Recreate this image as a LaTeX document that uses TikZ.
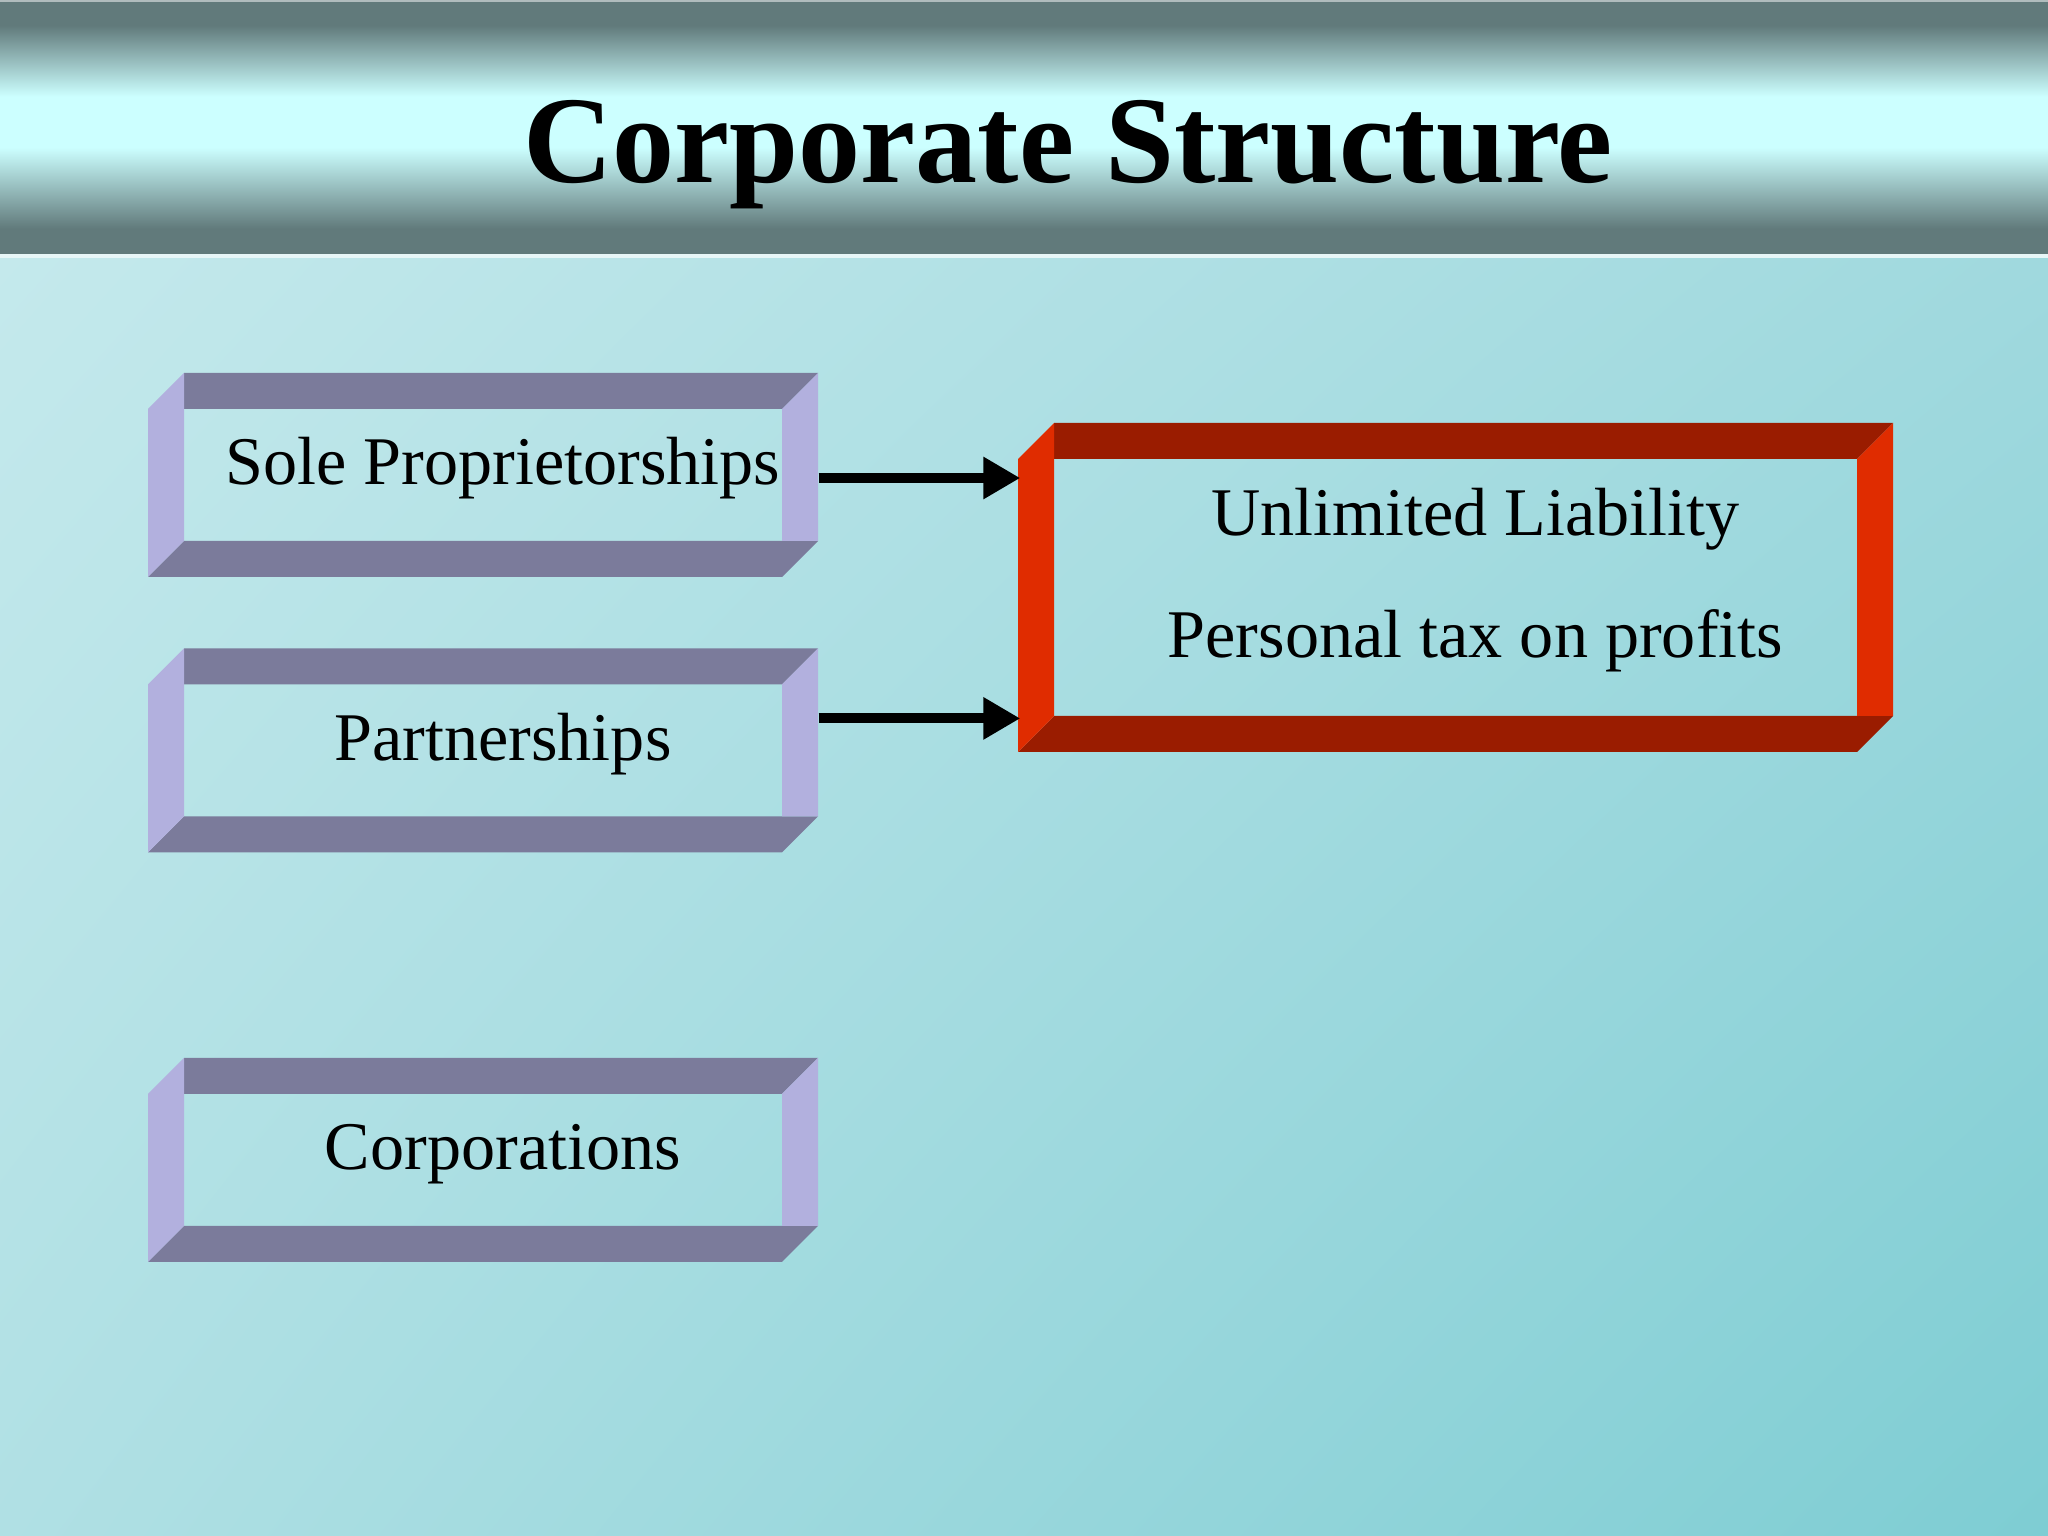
\documentclass[tikz,border=0pt]{standalone}
\usepackage{fontspec}
\setmainfont{Liberation Serif}
\usepackage{xcolor}
\usetikzlibrary{positioning, arrows.meta, shadings}

\definecolor{bardark}{RGB}{97,122,123}
\definecolor{barlight}{RGB}{204,255,255}
\definecolor{bgul}{RGB}{196,233,236}
\definecolor{bgur}{RGB}{160,217,222}
\definecolor{bgll}{RGB}{176,224,228}
\definecolor{bglr}{RGB}{126,205,211}
\definecolor{lavdark}{RGB}{123,123,155}
\definecolor{lavlight}{RGB}{178,176,222}
\definecolor{reddark}{RGB}{154,28,0}
\definecolor{redlight}{RGB}{224,44,0}

\pgfdeclareverticalshading{titlebar}{100bp}{color(0bp)=(bardark); color(30bp)=(bardark); color(46bp)=(barlight); color(56bp)=(barlight); color(70bp)=(bardark); color(100bp)=(bardark)}

\begin{document}
\begin{tikzpicture}
    % Define the style for the nodes
    \tikzset{bevel/.style 2 args={path picture={
        \coordinate (nw) at (path picture bounding box.north west);
        \coordinate (ne) at (path picture bounding box.north east);
        \coordinate (sw) at (path picture bounding box.south west);
        \coordinate (se) at (path picture bounding box.south east);
        \fill[#1] ([xshift=3.6mm]nw) -- (ne) -- ([shift={(-3.6mm,-3.6mm)}]ne) -- ([shift={(3.6mm,-3.6mm)}]nw) -- cycle;
        \fill[#1] ([shift={(3.6mm,3.6mm)}]sw) -- ([yshift=3.6mm]se) -- ([xshift=-3.6mm]se) -- (sw) -- cycle;
        \fill[#2] ([xshift=3.6mm]nw) -- ([shift={(3.6mm,3.6mm)}]sw) -- (sw) -- ([yshift=-3.6mm]nw) -- cycle;
        \fill[#2] ([shift={(-3.6mm,-3.6mm)}]ne) -- (ne) -- ([yshift=3.6mm]se) -- ([shift={(-3.6mm,3.6mm)}]se) -- cycle;
    }}}
    \tikzstyle{block} = [rectangle, bevel={lavdark}{lavlight}, minimum width=6.7cm, minimum height=2.04cm, text height=0.46cm, text depth=0.26cm, font=\fontsize{19.4}{23}\selectfont]
    \tikzstyle{outcome} = [rectangle, bevel={reddark}{redlight}, minimum width=8.75cm, minimum height=3.29cm, align=center, text depth=0.29cm, font=\fontsize{19.4}{34.6}\selectfont]
    \tikzstyle{line} = [draw, line width=0.1cm, -{Triangle[length=0.37cm, width=0.4cm]}]

    \useasboundingbox (0,0) rectangle (20.48,-15.36);

    % Background and title bar
    \shade[upper left=bgul, upper right=bgur, lower left=bgll, lower right=bglr] (0,-2.54) rectangle (20.48,-15.36);
    \shade[shading=titlebar] (0,0) rectangle (20.48,-2.54);
    \fill[white!50!bardark] (0,0) rectangle (20.48,-0.02);
    \fill[white!60!bgul] (0,-2.54) rectangle (20.48,-2.58);
    \node [anchor=base, font=\fontsize{35.3}{40}\selectfont\bfseries] (title) at (10.68,-1.83) {Corporate Structure};

    % Place the nodes
    \node [block] (sole) at (4.83,-4.75) {\hspace{4mm}Sole Proprietorships};
    \node [block, below=0.7cm of sole] (part) {\hspace{4mm}Partnerships};
    \node [block, below=2.04cm of part] (corp) {\hspace{4mm}Corporations};
    \node [outcome] (red) at (14.555,-5.875) {\hspace{4mm}Unlimited Liability\\\hspace{4mm}Personal tax on profits};

    % Connect the nodes with paths
    \coordinate (soleout) at ([yshift=-0.3mm]sole.east);
    \coordinate (partout) at ([yshift=3.2mm]part.east);
    \path [line] (soleout) -- ([xshift=0.3mm]soleout -| red.west);
    \path [line] (partout) -- ([xshift=0.3mm]partout -| red.west);
\end{tikzpicture}
\end{document}
